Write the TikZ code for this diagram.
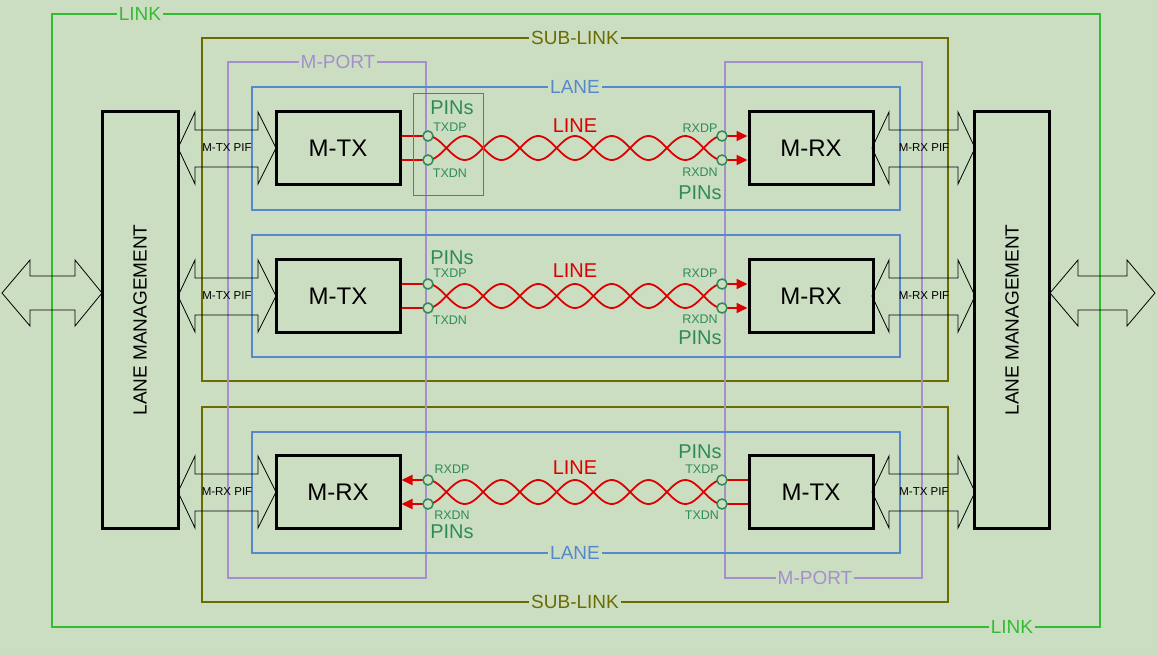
\documentclass[tikz,border=0pt]{standalone}
\usepackage{fontspec}
\setmainfont{Liberation Sans}
\usetikzlibrary{arrows.meta}
\definecolor{bg}{HTML}{CCDEC2}
\definecolor{linkc}{HTML}{33BB33}
\definecolor{subc}{HTML}{6B6B00}
\definecolor{portc}{HTML}{A58FCC}
\definecolor{lanec}{HTML}{5588CC}
\definecolor{pinc}{HTML}{2E8B57}
\definecolor{wire}{HTML}{DD0000}
\begin{document}
\begin{tikzpicture}[x=1pt,y=-1pt,
 lbl/.style={fill=bg,inner sep=2pt,font=\fontsize{19}{19}\selectfont},
 blk/.style={draw,line width=3pt,minimum width=124pt,minimum height=73pt,font=\fontsize{24}{24}\selectfont},
 pin/.style={circle,draw=pinc,fill=bg,line width=1.5pt,inner sep=0,minimum size=10pt},
 pt/.style={text=pinc,font=\fontsize{12.5}{12.5}\selectfont,inner sep=0},
 pins/.style={text=pinc,font=\fontsize{20}{20}\selectfont,inner sep=0},
 linel/.style={text=wire,font=\fontsize{20}{20}\selectfont,inner sep=0},
 wr/.style={draw=wire,line width=1.8pt},
 pif/.style={font=\fontsize{11.5}{11.5}\selectfont,inner sep=0}]
\fill[bg] (0,0) rectangle (1158,655);
\useasboundingbox (0,0) rectangle (1158,655);
% LINK
\draw[linkc,line width=1.2pt] (52,14) rectangle (1100,627);
\node[lbl,text=linkc] (lk1) at (140,14) {LINK};
\node[lbl,text=linkc] (lk2) at (1012,627) {LINK};
% SUB-LINK
\draw[subc,line width=1.2pt] (202,38) rectangle (948,381);
\draw[subc,line width=1.2pt] (202,407) rectangle (948,602);
\node[lbl,text=subc] (sl1) at (575,38) {SUB-LINK};
\node[lbl,text=subc] (sl2) at (575,602) {SUB-LINK};
% M-PORT
\draw[portc,line width=1.2pt] (228,62) rectangle (426,578);
\draw[portc,line width=1.2pt] (725,62) rectangle (922,578);
\node[lbl,text=portc] (mp1) at (338,62) {M-PORT};
\node[lbl,text=portc] (mp2) at (815,578) {M-PORT};
% LANE
\foreach \t/\b in {87/210,235/357,432/553}
  \draw[lanec,line width=1.2pt] (252,\t) rectangle (900,\b);
\node[lbl,text=lanec] (ln1) at (575,87) {LANE};
\node[lbl,text=lanec] (ln2) at (575,553) {LANE};
% Lane management
\node[draw,line width=3pt,minimum width=76pt,minimum height=416pt] (lmL) at (140,320) {};
\node[rotate=90,font=\fontsize{19}{19}\selectfont] at (lmL) {LANE MANAGEMENT};
\node[draw,line width=3pt,minimum width=75pt,minimum height=416pt] (lmR) at (1012,320) {};
\node[rotate=90,font=\fontsize{19}{19}\selectfont] at (lmR) {LANE MANAGEMENT};
% outer big arrows
\draw[line width=0.8pt] (2,293) -- (30,260) -- (30,276) -- (75,276) -- (75,260) -- (102,293) -- (75,326) -- (75,310) -- (30,310) -- (30,326) -- cycle;
\draw[line width=0.8pt] (1050,293) -- (1078,260) -- (1078,276) -- (1127,276) -- (1127,260) -- (1155,293) -- (1127,326) -- (1127,310) -- (1078,310) -- (1078,326) -- cycle;
% PIF arrows
\foreach \c/\lt/\rt in {148/M-TX PIF/M-RX PIF,296/M-TX PIF/M-RX PIF,492/M-RX PIF/M-TX PIF}{
 \draw[line width=0.8pt] (178,\c) -- (195,\c-36) -- (195,\c-18) -- (258,\c-18) -- (258,\c-36) -- (276,\c) -- (258,\c+36) -- (258,\c+19) -- (195,\c+19) -- (195,\c+36) -- cycle;
 \node[pif] at (227,\c) {\lt};
 \draw[line width=0.8pt] (872,\c) -- (889,\c-36) -- (889,\c-18) -- (958,\c-18) -- (958,\c-36) -- (975,\c) -- (958,\c+36) -- (958,\c+19) -- (889,\c+19) -- (889,\c+36) -- cycle;
 \node[pif] at (924,\c) {\rt};
}
% blocks
\node[blk] (tx1) at (338,148) {M-TX};
\node[blk] (rx1) at (811,148) {M-RX};
\node[blk] (tx2) at (338,296) {M-TX};
\node[blk] (rx2) at (811,296) {M-RX};
\node[blk] (rx3) at (338,492) {M-RX};
\node[blk] (tx3) at (811,492) {M-TX};
% wires
\foreach \p/\n/\k in {136/160/1,284/308/2,480/504/3}{
 \coordinate (lp\k) at (428,\p); \coordinate (ln\k) at (428,\n);
 \coordinate (rp\k) at (722,\p); \coordinate (rn\k) at (722,\n);
 \draw[wr,smooth] plot[domain=0:294,samples=120] (\x+428,{(\p+\n)/2-12*cos(4.898*\x)});
 \draw[wr,smooth] plot[domain=0:294,samples=120] (\x+428,{(\p+\n)/2+12*cos(4.898*\x)});
}
\foreach \k/\L/\R in {1/tx1/rx1,2/tx2/rx2}{
 \draw[wr] (\L.east |- lp\k) -- (lp\k);
 \draw[wr] (\L.east |- ln\k) -- (ln\k);
 \draw[wr,-{Triangle[length=11pt,width=10pt]}] (rp\k) -- (\R.west |- rp\k);
 \draw[wr,-{Triangle[length=11pt,width=10pt]}] (rn\k) -- (\R.west |- rn\k);
}
\draw[wr,-{Triangle[length=11pt,width=10pt]}] (lp3) -- (rx3.east |- lp3);
\draw[wr,-{Triangle[length=11pt,width=10pt]}] (ln3) -- (rx3.east |- ln3);
\draw[wr] (rp3) -- (tx3.west |- rp3);
\draw[wr] (rn3) -- (tx3.west |- rn3);
\foreach \k in {1,2,3}{
 \node[pin] at (lp\k) {}; \node[pin] at (ln\k) {};
 \node[pin] at (rp\k) {}; \node[pin] at (rn\k) {};
}
% red pin box
\draw[wire!75!white,line width=0.8pt] (413,93) rectangle (483,195);
% labels
\node[pins] at (452,108) {PINs};
\node[pt] at (450,127) {TXDP};
\node[pt] at (450,173) {TXDN};
\node[linel] at (575,126) {LINE};
\node[pt] at (700,128) {RXDP};
\node[pt] at (700,172) {RXDN};
\node[pins] at (700,193) {PINs};
\node[pins] at (452,258) {PINs};
\node[pt] at (450,273) {TXDP};
\node[pt] at (450,320) {TXDN};
\node[linel] at (575,271) {LINE};
\node[pt] at (700,273) {RXDP};
\node[pt] at (700,319) {RXDN};
\node[pins] at (700,338) {PINs};
\node[pt] at (452,469) {RXDP};
\node[pt] at (452,515) {RXDN};
\node[pins] at (452,532) {PINs};
\node[linel] at (575,468) {LINE};
\node[pins] at (700,452) {PINs};
\node[pt] at (702,469) {TXDP};
\node[pt] at (702,515) {TXDN};
\end{tikzpicture}
\end{document}
